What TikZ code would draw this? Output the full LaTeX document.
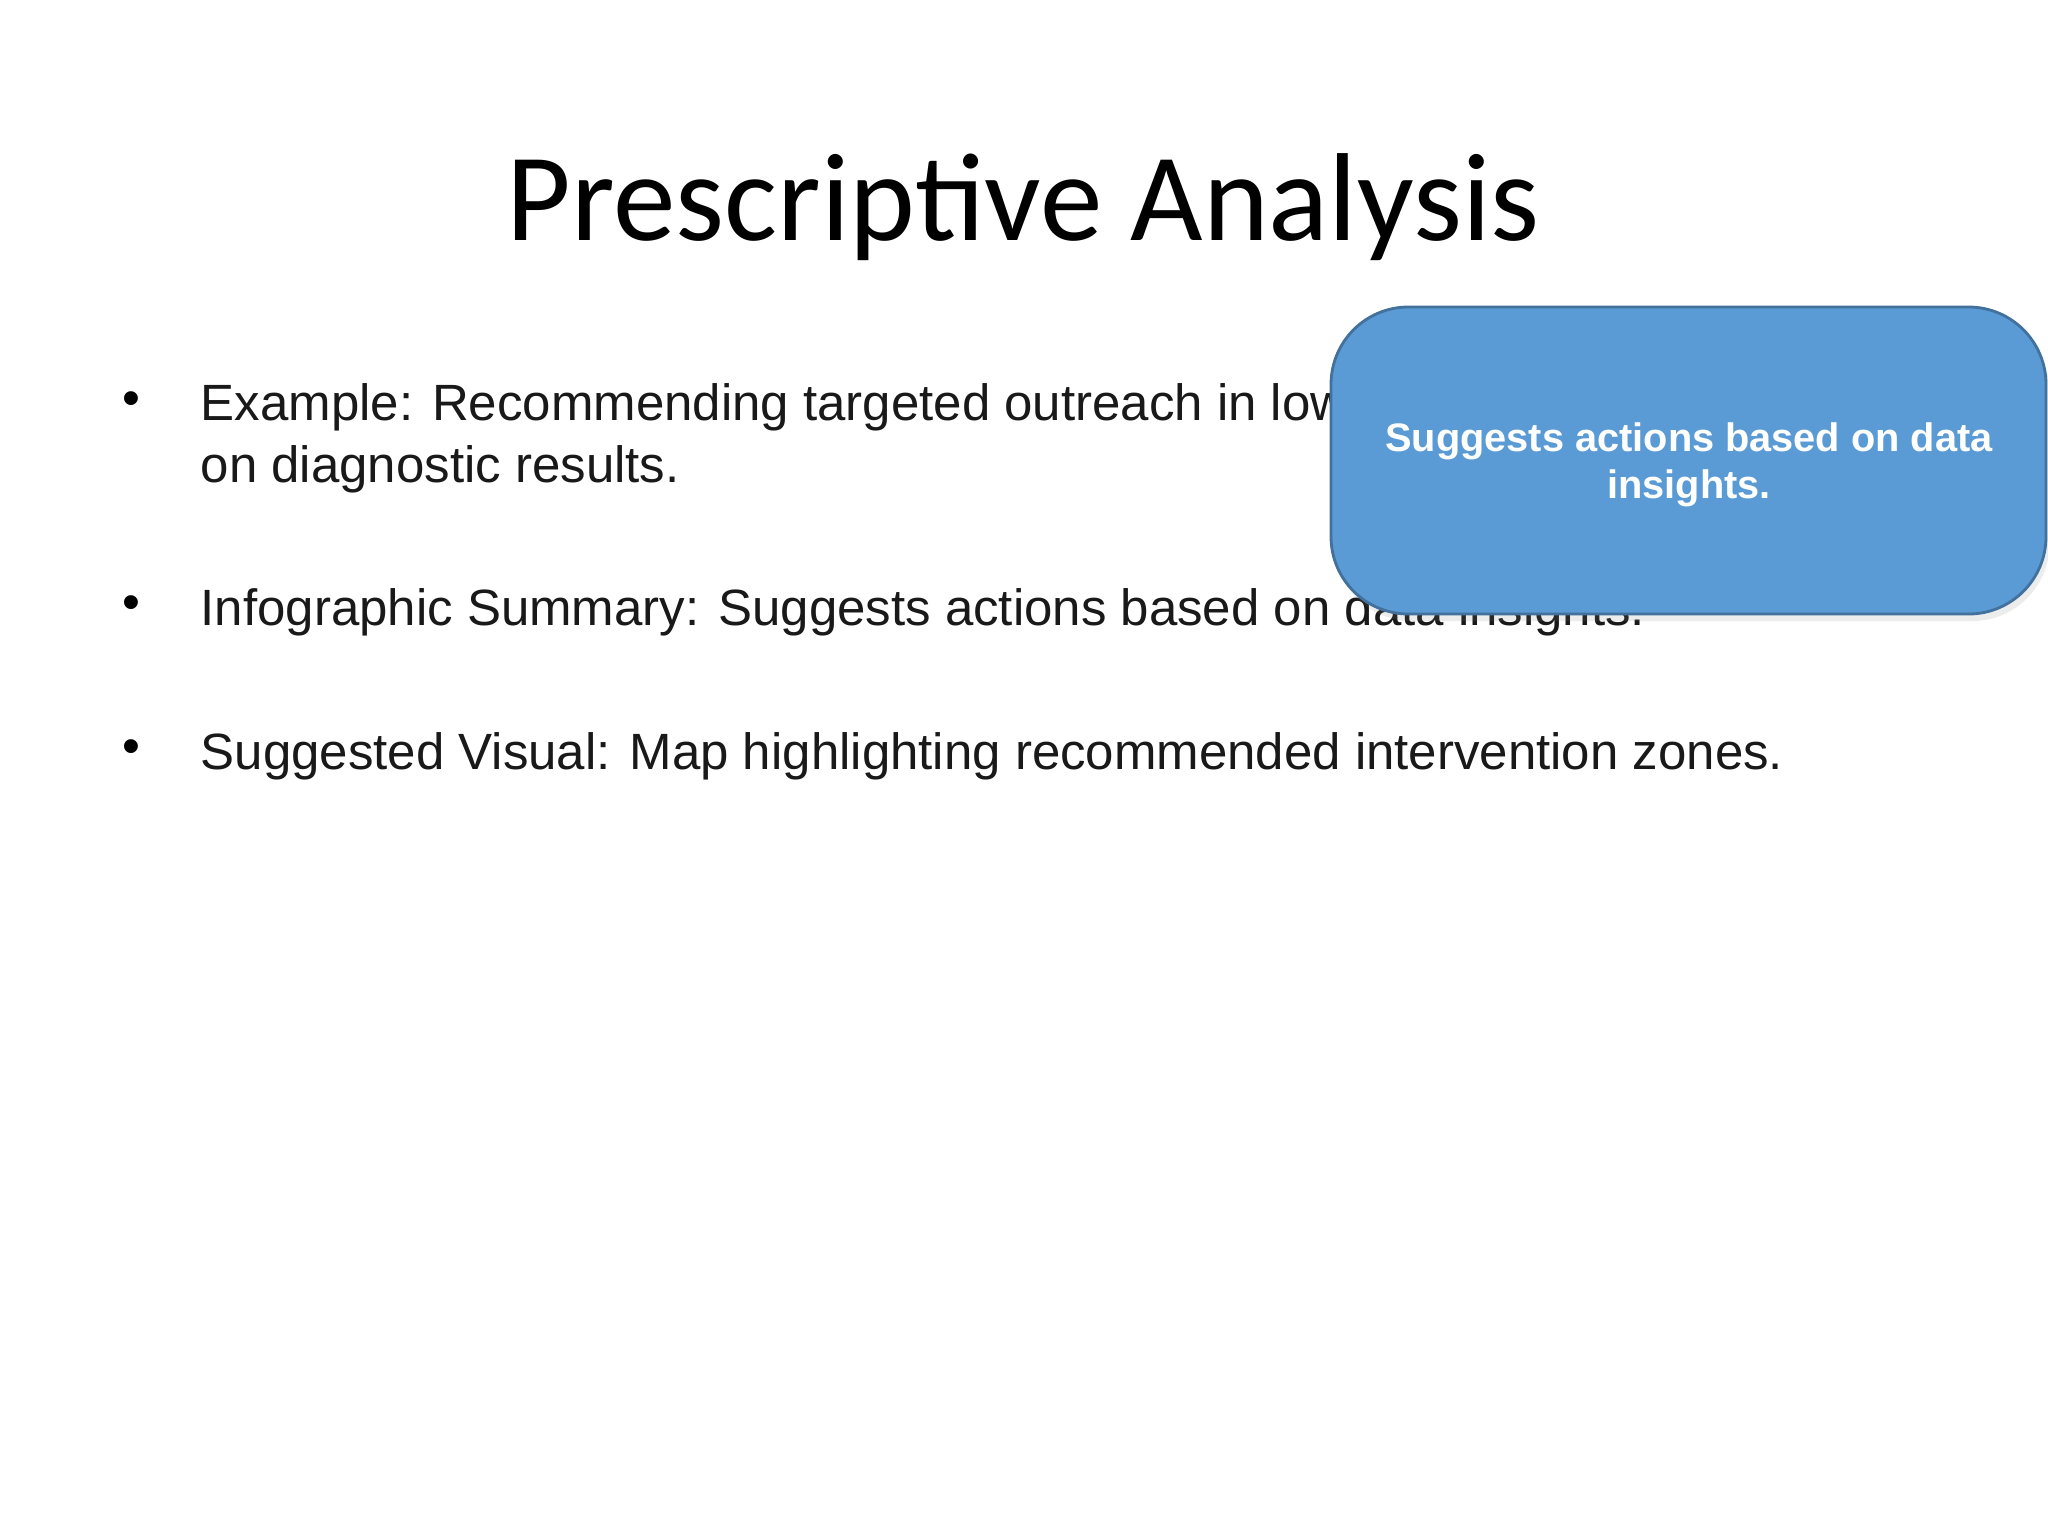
\documentclass[tikz,border=0pt]{standalone}
\usepackage{fontspec}
\setmainfont{Liberation Sans}
\newfontfamily\titlefont{Carlito}
\usetikzlibrary{shadows}
\definecolor{boxfill}{HTML}{5B9BD5}
\definecolor{boxline}{HTML}{41719C}
\begin{document}
\begin{tikzpicture}[x=0.01cm,y=-0.01cm,
  bul/.style={anchor=base west,font=\fontsize{14.5pt}{17.6pt}\selectfont,inner sep=0pt,text=black!90},
  dot/.style={anchor=base,font=\fontsize{14.5pt}{17pt}\selectfont,inner sep=0pt}]
\useasboundingbox (0,0) rectangle (2048,1536);
\fill[white] (0,0) rectangle (2048,1536);
\node[font=\titlefont\fontsize{35.6pt}{42pt}\selectfont,anchor=base,inner sep=0pt] (title) at (1023,240) {Prescriptive Analysis};
\node[dot] (d1) at (131,415) {•};
\node[bul] (b1) at (200,420) {Example: Recommending targeted outreach in low-performing areas based};
\node[bul] (b1b) at (200,482) {on diagnostic results.};
\node[dot] (d2) at (131,619) {•};
\node[bul] (b2) at (200,625) {Infographic Summary: Suggests actions based on data insights.};
\node[dot] (d3) at (131,763) {•};
\node[bul] (b3) at (200,769) {Suggested Visual: Map highlighting recommended intervention zones.};
\draw[boxline,fill=boxfill,rounded corners=22pt,line width=0.8pt,drop shadow={opacity=0.15,shadow xshift=1pt,shadow yshift=-2pt}] (1331,307) rectangle (2046,614);
\node[text=white,font=\bfseries\fontsize{11.3pt}{13.4pt}\selectfont,align=center] (box) at (1689,465) {Suggests actions based on data\\insights.};
\end{tikzpicture}
\end{document}
